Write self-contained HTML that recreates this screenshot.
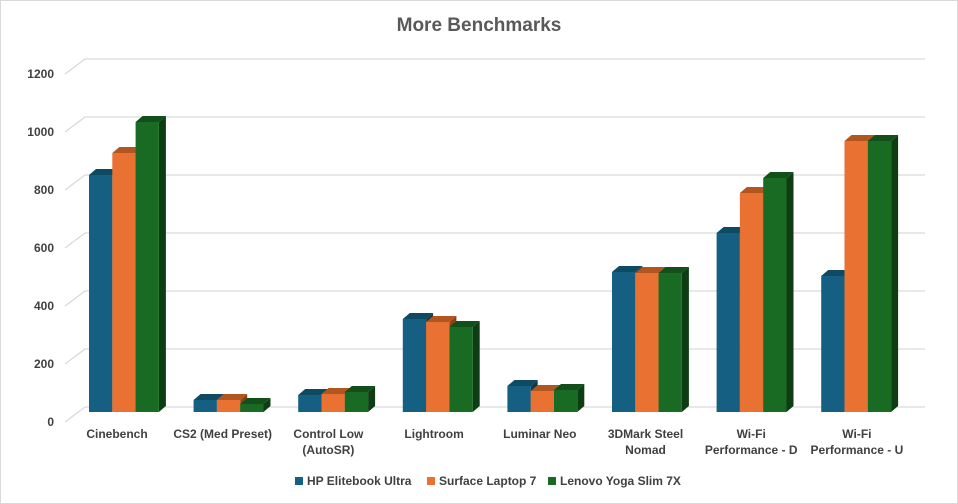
<!DOCTYPE html><html><head><style>body{margin:0;background:#fff}svg{display:block}text{font-family:"Liberation Sans",sans-serif}</style></head><body>
<svg width="958" height="504" viewBox="0 0 958 504">
<rect x="0.5" y="0.5" width="957" height="503" fill="#fff" stroke="#d9d9d9"/>
<text x="479" y="31" text-anchor="middle" font-size="19" font-weight="bold" fill="#595959">More Benchmarks</text>
<g stroke="#d9d9d9" stroke-width="1.3" fill="none" id="grid"></g>
<g id="yl" font-size="12" font-weight="bold" fill="#404040" text-anchor="end"></g>
<g id="bars"></g>
<g id="xl" font-size="12" font-weight="bold" fill="#404040" text-anchor="middle"></g>
<g font-size="12" font-weight="bold" fill="#404040">
<rect x="295" y="477" width="8" height="8" fill="#156082"/><text x="307" y="485">HP Elitebook Ultra</text>
<rect x="427" y="477" width="8" height="8" fill="#e97132"/><text x="439" y="485">Surface Laptop 7</text>
<rect x="548" y="477" width="8" height="8" fill="#196b24"/><text x="560" y="485">Lenovo Yoga Slim 7X</text>
</g>
</svg>
<script>
var ns="http://www.w3.org/2000/svg";function el(p,t,a,tx){var e=document.createElementNS(ns,t);for(var k in a)e.setAttribute(k,a[k]);if(tx)e.textContent=tx;document.getElementById(p).appendChild(e);}
for(var i=0;i<=6;i++){var yb=407-i*58;el("grid","polyline",{points:"65,"+(yb+15)+" 85,"+yb+" 925,"+yb});el("yl","text",{x:54,y:yb+19},String(i*200));}
var tops=[[175,153,122],[400,400,404],[395,394,392],[319,322,327],[386,391,390],[272,273,273],[233,193,178],[276,141,141]];
var cf=["#156082","#e97132","#196b24"],tf=["#0f4a63","#b2561f","#134f1b"],sf=["#0c3a4e","#8a4216","#0e3d14"];
var labs=[["Cinebench"],["CS2 (Med Preset)"],["Control Low","(AutoSR)"],["Lightroom"],["Luminar Neo"],["3DMark Steel","Nomad"],["Wi-Fi","Performance - D"],["Wi-Fi","Performance - U"]];
for(var c=0;c<8;c++){var gx=89+c*104.6;
for(var s=0;s<3;s++){var x=gx+s*23.3,t=tops[c][s],b=412,w=23.3,d=7,h=6;
el("bars","polygon",{points:(x+w)+","+t+" "+(x+w+d)+","+(t-h)+" "+(x+w+d)+","+(b-h)+" "+(x+w)+","+b,fill:sf[s]});
el("bars","polygon",{points:x+","+t+" "+(x+d)+","+(t-h)+" "+(x+w+d)+","+(t-h)+" "+(x+w)+","+t,fill:tf[s]});
el("bars","rect",{x:x,y:t,width:w,height:b-t,fill:cf[s]});}
labs[c].forEach(function(l,j){el("xl","text",{x:117+c*105.7,y:438+j*16},l);});}
</script></body></html>
